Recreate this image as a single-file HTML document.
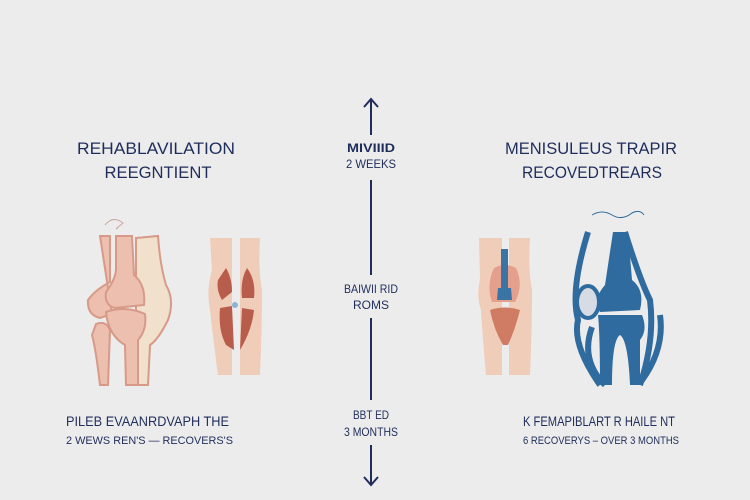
<!DOCTYPE html>
<html><head><meta charset="utf-8"><style>
body{margin:0;background:#ececec;}
svg{display:block}
text{font-family:"Liberation Sans",sans-serif;fill:#1f2d5a}
</style></head><body>
<svg width="750" height="500" viewBox="0 0 750 500">
<rect width="750" height="500" fill="#ececec"/>
<g stroke="#1f2d5a" stroke-width="2" fill="none">
<line x1="371" y1="100" x2="371" y2="135"/>
<path d="M364 107 L371 99 L378 107"/>
<line x1="371" y1="180" x2="371" y2="275"/>
<line x1="371" y1="318" x2="371" y2="400"/>
<line x1="371" y1="445" x2="371" y2="484"/>
<path d="M364 477 L371 485 L378 477"/>
</g>
<g text-anchor="middle">
<text x="156" y="154" font-size="17" textLength="158" lengthAdjust="spacingAndGlyphs">REHABLAVILATION</text>
<text x="158" y="178" font-size="17" textLength="107" lengthAdjust="spacingAndGlyphs">REEGNTIENT</text>
<text x="591" y="154" font-size="17" textLength="172" lengthAdjust="spacingAndGlyphs">MENISULEUS TRAPIR</text>
<text x="592" y="178" font-size="17" textLength="140" lengthAdjust="spacingAndGlyphs">RECOVEDTREARS</text>
<text x="371" y="152" font-size="12" font-weight="bold" textLength="48" lengthAdjust="spacingAndGlyphs">MIVIIID</text>
<text x="371" y="168" font-size="12" textLength="50" lengthAdjust="spacingAndGlyphs">2 WEEKS</text>
<text x="371" y="293" font-size="12" textLength="54" lengthAdjust="spacingAndGlyphs">BAIWII RID</text>
<text x="371" y="309" font-size="12" textLength="36" lengthAdjust="spacingAndGlyphs">ROMS</text>
<text x="371" y="419" font-size="12" textLength="36" lengthAdjust="spacingAndGlyphs">BBT ED</text>
<text x="371" y="436" font-size="12" textLength="54" lengthAdjust="spacingAndGlyphs">3 MONTHS</text>
</g>
<text x="66" y="426" font-size="14" textLength="163" lengthAdjust="spacingAndGlyphs">PILEB EVAANRDVAPH  THE</text>
<text x="66" y="444" font-size="11" textLength="167" lengthAdjust="spacingAndGlyphs">2 WEWS REN'S — RECOVERS'S</text>
<text x="523" y="426" font-size="14" textLength="152" lengthAdjust="spacingAndGlyphs">K FEMAPIBLART R HAILE NT</text>
<text x="523" y="444" font-size="11" textLength="156" lengthAdjust="spacingAndGlyphs">6 RECOVERYS – OVER 3 MONTHS</text>

<g>
<path d="M105 225 q8 -10 18 -2 q-10 8 -5 5" stroke="#c9a7a0" fill="none"/>
<path d="M136 238 L158 236 Q160 265 166 285 Q175 300 168 320 Q158 340 150 345 L148 385 L136 385 Z" fill="#f1e0cc" stroke="#d89a88" stroke-width="2"/>
<path d="M100 236 L110 236 L110 282 Q95 290 88 300 Q87 315 100 318 L112 314 Z" fill="#ecbfae" stroke="#d89a88" stroke-width="2"/>
<path d="M116 236 L132 236 L134 275 Q146 285 144 305 L115 308 Q104 305 106 292 Q115 280 116 270 Z" fill="#ecbfae" stroke="#d89a88" stroke-width="2"/>
<path d="M106 312 Q125 305 145 314 Q147 330 138 340 L138 385 L126 385 L125 345 Q108 335 106 312 Z" fill="#ecbfae" stroke="#d89a88" stroke-width="2"/>
<path d="M96 324 Q106 320 110 330 L108 385 L100 385 Q96 350 92 335 Z" fill="#ecbfae" stroke="#d89a88" stroke-width="2"/>
</g>
<g>
<path d="M210 238 L232 238 L232 375 L218 375 Q212 330 210 310 Q206 290 212 270 Z" fill="#f0cdb8"/>
<path d="M240 238 L260 238 Q258 270 262 290 Q262 330 260 375 L240 375 Z" fill="#f0cdb8"/>
<path d="M226 268 Q232 278 232 292 L222 300 Q216 290 218 280 Z M247 268 Q256 280 254 298 L242 298 Q240 280 247 268 Z" fill="#b85c4c"/>
<path d="M220 308 L232 306 L234 350 L226 345 Q218 330 220 308 Z M242 308 L254 310 Q252 330 240 350 Z" fill="#b85c4c"/>
<circle cx="235" cy="305" r="3" fill="#8fb3d6"/>
</g>
<g>
<path d="M479 238 L502 238 L502 375 L486 375 Q482 330 481 310 Q476 295 480 280 Z" fill="#f0cdb8"/>
<path d="M509 238 L530 238 Q528 270 532 290 Q532 330 530 375 L509 375 Z" fill="#f0cdb8"/>
<path d="M494 268 Q505 262 516 268 Q524 285 515 302 L492 302 Q486 285 494 268 Z" fill="#e4a08c"/>
<path d="M490 310 Q505 305 520 310 Q515 330 508 345 L503 345 Q494 330 490 310 Z" fill="#d07b63"/>
<rect x="501" y="249" width="7" height="40" fill="#3a74a5"/>
<path d="M498 288 L511 288 L512 300 L497 300 Z" fill="#3a74a5"/>
</g>
<g fill="none" stroke="#2f6b9e" stroke-width="6">
<path d="M588 232 Q570 290 578 320 Q572 345 600 385"/>
<path d="M625 232 Q640 280 650 300 Q655 340 640 385"/>
<path d="M592 327 Q580 360 605 385"/>
<path d="M660 315 Q665 350 640 383"/>
</g>
<path d="M592 215 q10 -6 20 0 q10 6 20 -2 q8 -4 12 2" stroke="#2f6b9e" fill="none"/>
<path d="M613 232 L628 232 L632 280 Q645 290 640 310 L600 312 Q592 300 605 285 Z" fill="#2f6b9e"/>
<path d="M598 315 L642 315 Q648 330 640 340 L640 385 L630 385 Q628 340 620 335 Q612 340 612 385 L600 385 Q600 335 598 315 Z" fill="#2f6b9e"/>
<ellipse cx="588" cy="302" rx="11" ry="16" fill="#d7dbe3" stroke="#2f6b9e" stroke-width="4"/>
</svg>
</body></html>
